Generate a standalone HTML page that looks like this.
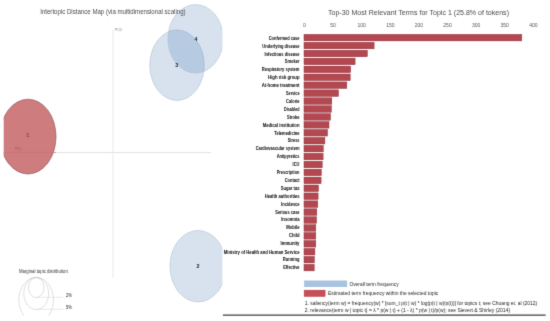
<!DOCTYPE html>
<html><head><meta charset="utf-8"><title>LDAvis topic 1</title><style>
html,body{margin:0;padding:0;background:#fff;overflow:hidden;}
svg{display:block;}
text{font-family:"Liberation Sans","Noto Sans CJK KR",sans-serif;}
.bars rect{fill:#b4474f;stroke:#7e2833;stroke-width:0.45;stroke-opacity:0.9;}
.labs text{font-size:4.9px;font-weight:bold;fill:#0a0a0a;}
.ticks text{font-size:5px;fill:#555;text-anchor:middle;}
.ttl{font-size:8.1px;fill:#4a4a4a;}
.sm{font-size:5px;fill:#222;}
.cl{font-size:5.4px;font-weight:bold;fill:#0e1620;text-anchor:middle;}
</style></head><body>
<svg width="550" height="321" viewBox="0 0 550 321">
<defs>
<filter id="bl" filterUnits="userSpaceOnUse" x="0" y="0" width="550" height="321"><feConvolveMatrix order="3" kernelMatrix="1 7 1 7 49 7 1 7 1" divisor="81" edgeMode="none"/></filter>
<clipPath id="bc"><rect x="0" y="0" width="222" height="315.6"/></clipPath>
<clipPath id="lc"><rect x="3.7" y="0" width="218.6" height="321"/></clipPath>
</defs>
<g filter="url(#bl)">
<g clip-path="url(#lc)">
<line x1="4" y1="152.5" x2="211.2" y2="152.5" stroke="#e0e0e0" stroke-width="0.9"/>
<line x1="112.9" y1="29.8" x2="112.9" y2="277.6" stroke="#e6e6e6" stroke-width="0.9"/>
<ellipse cx="28" cy="136.6" rx="28" ry="37.4" fill="#ce7b7d" stroke="#7e4c50" stroke-width="0.6"/>
<line x1="4" y1="152.5" x2="56" y2="152.5" stroke="#c47073" stroke-width="0.6"/>
<g fill="#376eaa" fill-opacity="0.2" stroke="#aabdd2" stroke-width="0.6">
<ellipse cx="177" cy="65.2" rx="27.2" ry="35.2"/>
<ellipse cx="195.5" cy="38.8" rx="27.6" ry="34.2"/>
<ellipse cx="198" cy="266.2" rx="28" ry="35.7"/>
</g>
</g>
<g fill="none" stroke="#b8b8b8" stroke-width="0.6" stroke-dasharray="1.3 0.4" clip-path="url(#bc)">
<ellipse cx="36.2" cy="287.5" rx="7.7" ry="9.9"/>
<ellipse cx="36.2" cy="293.5" rx="12.4" ry="16"/>
<ellipse cx="36.2" cy="299.9" rx="17.3" ry="22.4"/>
</g>
<line x1="36.2" y1="297.3" x2="63.3" y2="297.3" stroke="#d0d0d0" stroke-width="0.5"/>
<line x1="36.2" y1="309.3" x2="63.3" y2="309.3" stroke="#d0d0d0" stroke-width="0.5"/>
<g class="bars"><rect x="304.0" y="34.35" width="217.8" height="6.55"/><rect x="304.0" y="42.28" width="70.1" height="6.55"/><rect x="304.0" y="50.21" width="63.4" height="6.55"/><rect x="304.0" y="58.14" width="51.1" height="6.55"/><rect x="304.0" y="66.07" width="46.7" height="6.55"/><rect x="304.0" y="74.00" width="46.2" height="6.55"/><rect x="304.0" y="81.93" width="42.8" height="6.55"/><rect x="304.0" y="89.86" width="34.5" height="6.55"/><rect x="304.0" y="97.79" width="27.8" height="6.55"/><rect x="304.0" y="105.72" width="27.4" height="6.55"/><rect x="304.0" y="113.65" width="26.5" height="6.55"/><rect x="304.0" y="121.58" width="25.0" height="6.55"/><rect x="304.0" y="129.51" width="23.5" height="6.55"/><rect x="304.0" y="137.44" width="20.9" height="6.55"/><rect x="304.0" y="145.37" width="19.3" height="6.55"/><rect x="304.0" y="153.30" width="19.1" height="6.55"/><rect x="304.0" y="161.23" width="18.2" height="6.55"/><rect x="304.0" y="169.16" width="17.4" height="6.55"/><rect x="304.0" y="177.09" width="17.1" height="6.55"/><rect x="304.0" y="185.02" width="14.5" height="6.55"/><rect x="304.0" y="192.95" width="14.1" height="6.55"/><rect x="304.0" y="200.88" width="13.8" height="6.55"/><rect x="304.0" y="208.81" width="12.8" height="6.55"/><rect x="304.0" y="216.74" width="12.5" height="6.55"/><rect x="304.0" y="224.67" width="11.8" height="6.55"/><rect x="304.0" y="232.60" width="11.8" height="6.55"/><rect x="304.0" y="240.53" width="11.8" height="6.55"/><rect x="304.0" y="248.46" width="10.9" height="6.55"/><rect x="304.0" y="256.39" width="10.4" height="6.55"/><rect x="304.0" y="264.32" width="10.2" height="6.55"/></g>
<rect x="304.1" y="280.5" width="43" height="6.5" fill="#a9c3df"/>
<rect x="304.1" y="290.1" width="21.1" height="6.5" fill="#c84e56" stroke="#8a2a36" stroke-width="0.45" stroke-opacity="0.6"/>
<line x1="222.9" y1="315.15" x2="545.6" y2="315.15" stroke="#3c3c3c" stroke-width="1.15"/>
<text x="40.2" y="14" textLength="145.4" lengthAdjust="spacingAndGlyphs" class="ttl">Intertopic Distance Map (via multidimensional scaling)</text>
<text x="115" y="30.9" font-size="3.8" fill="#777" textLength="7" lengthAdjust="spacingAndGlyphs">PC2</text>
<text x="15.3" y="150.1" font-size="3.6" fill="#a25058" textLength="6" lengthAdjust="spacingAndGlyphs">PC1</text>
<g clip-path="url(#lc)">
<text x="27.8" y="136.5" class="cl" style="fill:#8a3a42">1</text>
<text x="198" y="268.2" class="cl">2</text>
<text x="176.8" y="66.6" class="cl">3</text>
<text x="195.9" y="40.9" class="cl">4</text>
</g>
<text x="18.9" y="272.9" textLength="49" lengthAdjust="spacingAndGlyphs" class="sm" style="fill:#333;font-size:5.3px">Marginal topic distribution</text>
<text x="66" y="297.4" textLength="5.8" lengthAdjust="spacingAndGlyphs" class="sm" style="fill:#222;font-size:5.3px">2%</text>
<text x="66" y="309" textLength="5.8" lengthAdjust="spacingAndGlyphs" class="sm" style="fill:#222;font-size:5.3px">5%</text>
<text x="328" y="14.8" textLength="181" lengthAdjust="spacingAndGlyphs" class="ttl">Top-30 Most Relevant Terms for Topic 1 (25.8% of tokens)</text>
<g class="ticks"><text x="304.5" y="27.3">0</text><text x="333.1" y="27.3">50</text><text x="361.7" y="27.3">100</text><text x="390.3" y="27.3">150</text><text x="418.9" y="27.3">200</text><text x="447.5" y="27.3">250</text><text x="476.1" y="27.3">300</text><text x="504.7" y="27.3">350</text><text x="533.3" y="27.3">400</text></g>
<g class="labs"><text x="268.7" y="39.70" textLength="30.8" lengthAdjust="spacingAndGlyphs">Confermed case</text><text x="262.3" y="47.60" textLength="37.2" lengthAdjust="spacingAndGlyphs">Underlying disease</text><text x="264.5" y="55.50" textLength="35.0" lengthAdjust="spacingAndGlyphs">Infectious disease</text><text x="284.7" y="63.40" textLength="14.8" lengthAdjust="spacingAndGlyphs">Smoker</text><text x="261.7" y="71.30" textLength="37.8" lengthAdjust="spacingAndGlyphs">Respiratory system</text><text x="268.1" y="79.20" textLength="31.4" lengthAdjust="spacingAndGlyphs">High risk group</text><text x="261.7" y="87.10" textLength="37.8" lengthAdjust="spacingAndGlyphs">At-home treatment</text><text x="286.1" y="95.00" textLength="13.4" lengthAdjust="spacingAndGlyphs">Service</text><text x="286.1" y="102.90" textLength="13.4" lengthAdjust="spacingAndGlyphs">Calorie</text><text x="284.1" y="110.80" textLength="15.4" lengthAdjust="spacingAndGlyphs">Disabled</text><text x="287.0" y="118.70" textLength="12.5" lengthAdjust="spacingAndGlyphs">Stroke</text><text x="262.7" y="126.60" textLength="36.8" lengthAdjust="spacingAndGlyphs">Medical institution</text><text x="274.3" y="134.50" textLength="25.2" lengthAdjust="spacingAndGlyphs">Telemedicine</text><text x="287.8" y="142.40" textLength="11.7" lengthAdjust="spacingAndGlyphs">Stress</text><text x="255.7" y="150.30" textLength="43.8" lengthAdjust="spacingAndGlyphs">Cardiovascular system</text><text x="276.7" y="158.20" textLength="22.8" lengthAdjust="spacingAndGlyphs">Antipyretics</text><text x="292.6" y="166.10" textLength="6.9" lengthAdjust="spacingAndGlyphs">ICU</text><text x="276.7" y="174.00" textLength="22.8" lengthAdjust="spacingAndGlyphs">Prescription</text><text x="284.7" y="181.90" textLength="14.8" lengthAdjust="spacingAndGlyphs">Contact</text><text x="280.7" y="189.80" textLength="18.8" lengthAdjust="spacingAndGlyphs">Sugar tax</text><text x="264.7" y="197.70" textLength="34.8" lengthAdjust="spacingAndGlyphs">Health authorities</text><text x="281.1" y="205.60" textLength="18.4" lengthAdjust="spacingAndGlyphs">Incidence</text><text x="275.3" y="213.50" textLength="24.2" lengthAdjust="spacingAndGlyphs">Serious case</text><text x="281.2" y="221.40" textLength="18.3" lengthAdjust="spacingAndGlyphs">Insomnia</text><text x="286.2" y="229.30" textLength="13.3" lengthAdjust="spacingAndGlyphs">Mobile</text><text x="289.0" y="237.20" textLength="10.5" lengthAdjust="spacingAndGlyphs">Child</text><text x="280.6" y="245.10" textLength="18.9" lengthAdjust="spacingAndGlyphs">Immunity</text><text x="223.8" y="253.60" textLength="75.7" lengthAdjust="spacingAndGlyphs">Ministry of Health and Human Service</text><text x="282.8" y="260.90" textLength="16.7" lengthAdjust="spacingAndGlyphs">Running</text><text x="283.2" y="268.80" textLength="16.3" lengthAdjust="spacingAndGlyphs">Effective</text></g>
<text x="349.4" y="285.5" textLength="49.2" lengthAdjust="spacingAndGlyphs" class="sm">Overall term frequency</text>
<text x="328" y="295.1" textLength="110.3" lengthAdjust="spacingAndGlyphs" class="sm">Estimated term frequency within the selected topic</text>
<text x="304.7" y="305.4" textLength="232.5" lengthAdjust="spacingAndGlyphs" class="sm">1. saliency(term w) = frequency(w) * [sum_t p(t | w) * log(p(t | w)/p(t))] for topics t; see Chuang et. al (2012)</text>
<text x="304.7" y="311.6" textLength="205.4" lengthAdjust="spacingAndGlyphs" class="sm">2. relevance(term w | topic t) = λ * p(w | t) + (1 - λ) * p(w | t)/p(w); see Sievert &amp; Shirley (2014)</text>
</g>
</svg>
</body></html>
